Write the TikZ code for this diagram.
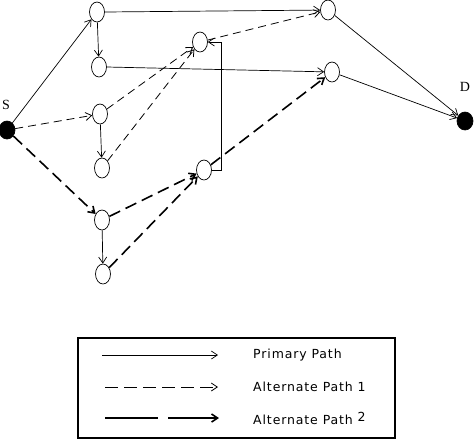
\documentclass[tikz,border=0pt]{standalone}
\usepackage{fontspec}
\setmainfont{Liberation Serif}
\newfontfamily\legendfont[LetterSpace=7]{DejaVu Sans}
\usetikzlibrary{arrows.meta, shapes.geometric}

\begin{document}
\begin{tikzpicture}[x=1pt, y=-1pt,
  hop/.style={draw, ellipse, minimum width=15pt, minimum height=20pt, inner sep=0pt, line width=0.7pt},
  endnode/.style={hop, fill=black, minimum width=16pt, minimum height=18pt},
  primary/.style={line width=0.7pt, -{Straight Barb[length=6pt, width=8pt]}},
  altone/.style={line width=0.8pt, dash pattern=on 8pt off 5pt, -{Straight Barb[length=6pt, width=8pt]}},
  alttwo/.style={line width=1.6pt, dash pattern=on 12pt off 6pt, -{Straight Barb[length=6pt, width=8pt]}},
  legendtext/.style={anchor=west, font=\legendfont\fontsize{12.5}{14}\selectfont, inner sep=0pt}]
  \useasboundingbox (0,0) rectangle (474,440);

  % Source and destination
  \node[endnode] (S) at (7,130) {};
  \node[font=\fontsize{14}{14}\selectfont] (Slabel) at (6,105) {S};
  \node[endnode] (D) at (465,121) {};
  \node[font=\fontsize{14}{14}\selectfont] (Dlabel) at (465,87) {D};

  % Intermediate hops
  \node[hop] (n1) at (97,12) {};
  \node[hop] (n2) at (99,67) {};
  \node[hop] (n3) at (100,114) {};
  \node[hop] (n4) at (102,168) {};
  \node[hop] (n5) at (102,220) {};
  \node[hop] (n6) at (103,274) {};
  \node[hop] (n7) at (200,42) {};
  \node[hop] (n8) at (204,170) {};
  \node[hop] (n9) at (328,10) {};
  \node[hop] (n10) at (332,72) {};

  % Primary path
  \draw[primary] (S) -- (n1);
  \draw[primary] (n1) -- (n2);
  \draw[primary] (n1.east) -- (n9);
  \draw[primary] (n2.east) -- (n10);
  \draw[primary] (n3) -- (n4);
  \draw[primary] (n5) -- (n6);
  \draw[primary] (n8.east) -- ++(9,0) |- (n7.east);
  \draw[primary] (n9) -- (D);
  \draw[primary] (n10) -- (D);

  % Alternate path 1
  \draw[altone] (S) -- (n3);
  \draw[altone] (n3) -- (n7);
  \draw[altone] (n4) -- (n7);
  \draw[altone] (n7) -- (n9);

  % Alternate path 2
  \draw[alttwo] (S) -- (n5);
  \draw[alttwo] (n5) -- (n8);
  \draw[alttwo] (n6) -- (n8);
  \draw[alttwo] (n8) -- (n10);

  % Legend
  \draw[line width=1.2pt] (78,338) rectangle (395,438);
  \coordinate (p1) at (102,355);
  \coordinate (p2) at (218,355);
  \coordinate (a1) at (105,387);
  \coordinate (a2) at (218,387);
  \coordinate (b1) at (105,418);
  \coordinate (b2) at (219,418);
  \draw[primary] (p1) -- (p2);
  \draw[altone, dash pattern=on 13pt off 6pt] (a1) -- (a2);
  \draw[alttwo, dash pattern=on 53pt off 10pt] (b1) -- (b2);
  \node[legendtext] (lprimary) at (253,355) {Primary Path};
  \node[legendtext] (lalt1) at (253,387) {Alternate Path 1};
  \node[legendtext] (lalt2) at (253,418) {Alternate Path \raisebox{3pt}{2}};
\end{tikzpicture}
\end{document}
